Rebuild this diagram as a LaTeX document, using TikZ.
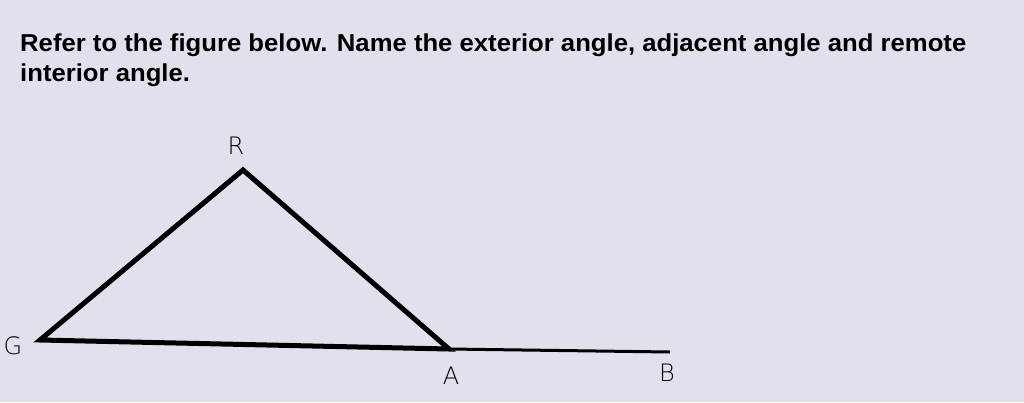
\documentclass[tikz,border=0pt]{standalone}
\usepackage{fontspec}
\setmainfont{Liberation Sans}
\newfontfamily\handfont{DejaVu Sans ExtraLight}
\definecolor{bgc}{RGB}{226,224,236}
\begin{document}
\begin{tikzpicture}[x=1pt,y=-1pt,
  side/.style={line width=5pt,line join=miter,black},
  ray/.style={line width=3pt,black},
  qtext/.style={anchor=west,inner sep=0pt,font=\fontsize{24}{30}\selectfont\bfseries},
  vlabel/.style={inner sep=0pt,font=\handfont\fontsize{24}{24}\selectfont}]
\fill[bgc] (0,0) rectangle (1024,402);
\useasboundingbox (0,0) rectangle (1024,402);
\node[qtext] (q1) at (20,45) {\scalebox{1.07}[1.02]{Refer to the figure below. Name the exterior angle, adjacent angle and remote}};
\node[qtext] (q2) at (20,75) {\scalebox{1.07}[1.02]{interior angle.}};
\coordinate (G) at (40,340);
\coordinate (R) at (243,170);
\coordinate (A) at (449,349);
\coordinate (B) at (670,352);
\draw[ray] (A) -- (B);
\draw[side] (A) -- (G) -- (R) -- cycle;
\node[vlabel] (lR) at (236,146) {R};
\node[vlabel] (lG) at (13,346) {G};
\node[vlabel] (lA) at (451,376) {A};
\node[vlabel] (lB) at (667,373) {B};
\end{tikzpicture}
\end{document}
